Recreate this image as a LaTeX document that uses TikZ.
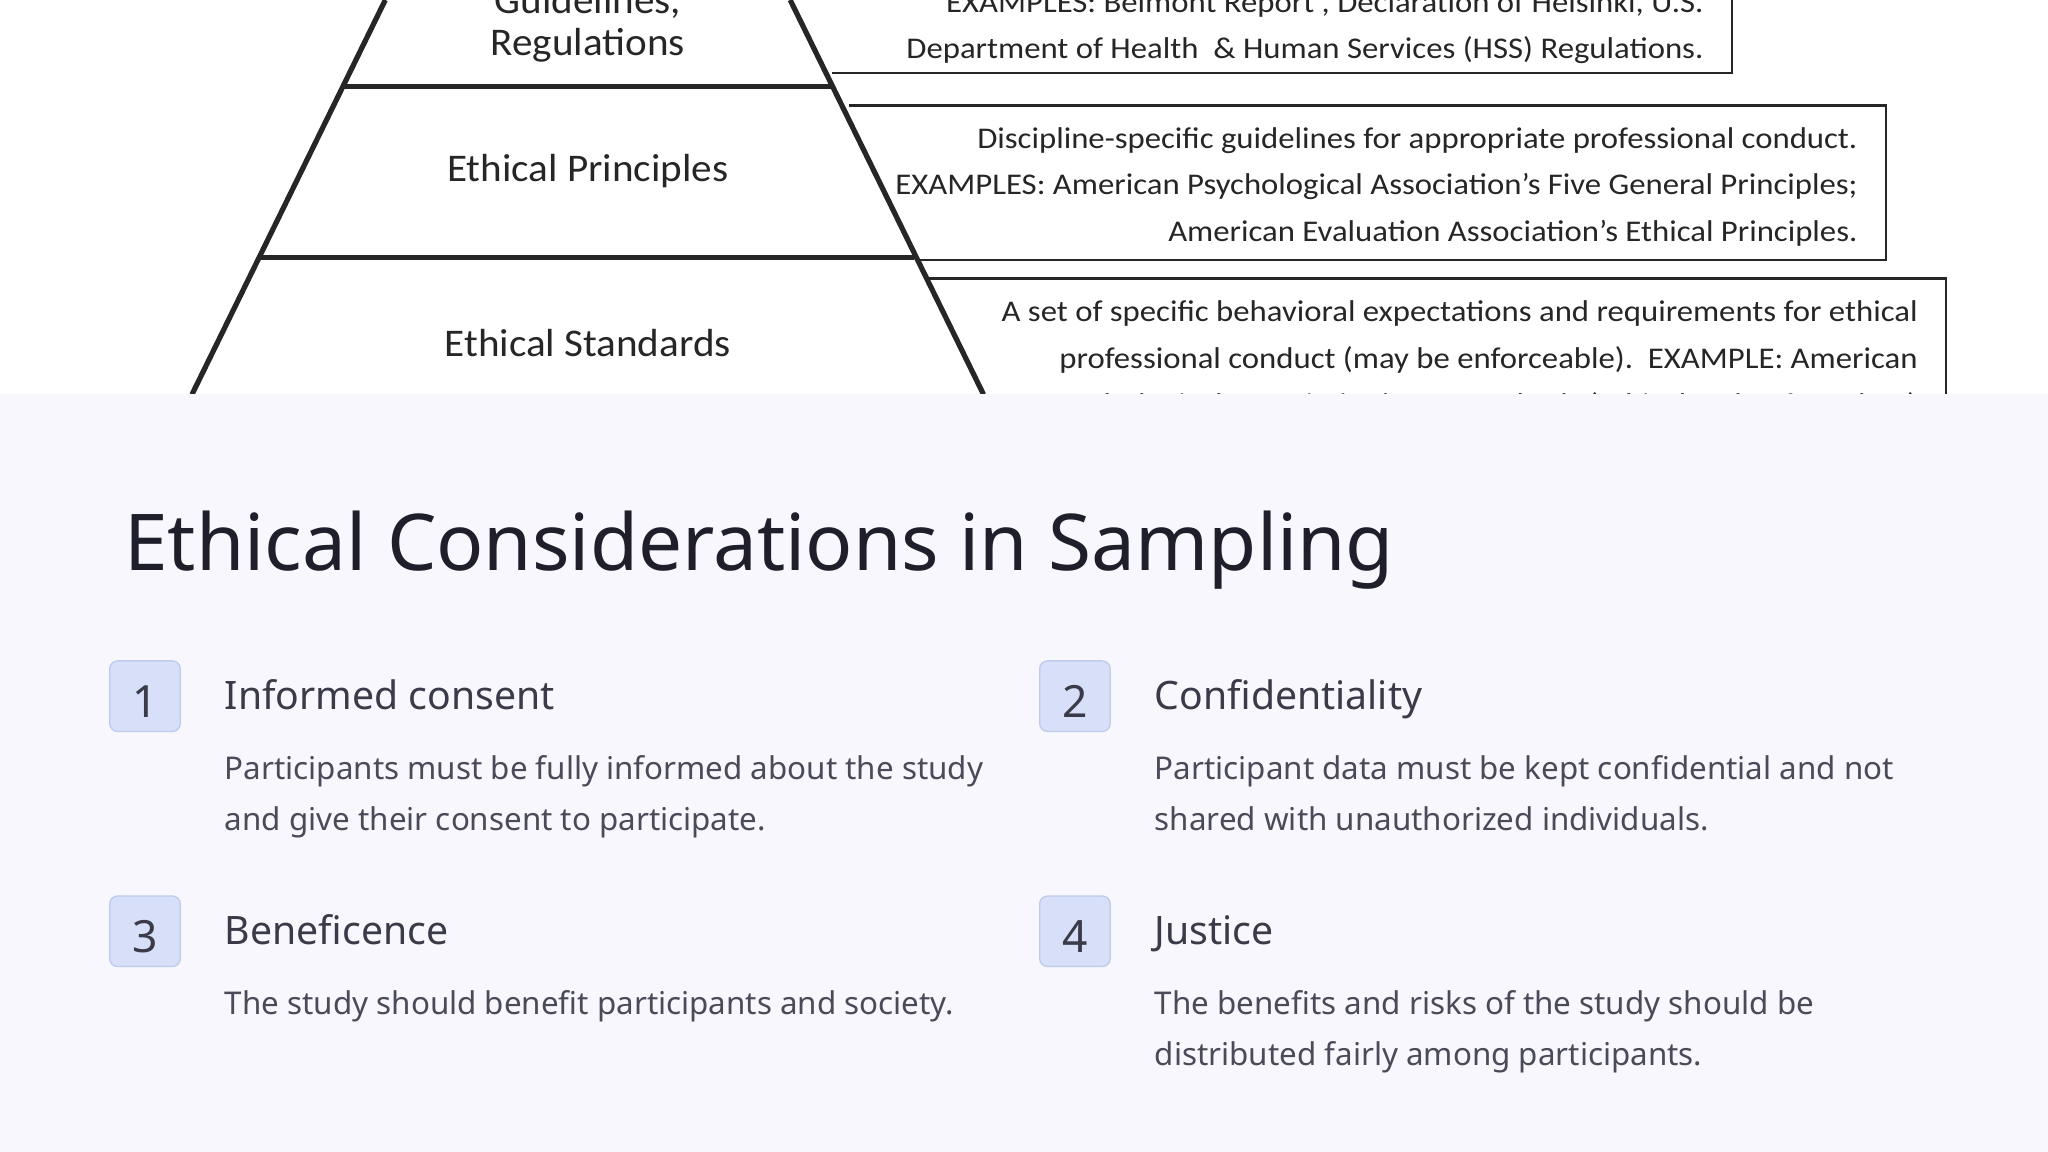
\documentclass[tikz,border=0pt]{standalone}
\usepackage{fontspec}
\setmainfont{Noto Sans}
\newfontfamily\calfont{Carlito}
\definecolor{panel}{HTML}{F7F7FD}
\definecolor{numfill}{HTML}{D7E0F8}
\definecolor{numdraw}{HTML}{BFCBEA}
\definecolor{titlec}{HTML}{1F1F2B}
\definecolor{headc}{HTML}{3A3A48}
\definecolor{bodyc}{HTML}{4A4A58}
\definecolor{ink}{HTML}{262626}
\tikzset{
  pyr/.style={draw=ink,line width=4pt},
  tbox/.style={draw=ink,line width=2pt},
  pyrlab/.style={font=\calfont\fontsize{30}{34}\selectfont,text=ink,align=center,xscale=1.05},
  boxtxt/.style={font=\calfont\fontsize{23}{35.5}\selectfont,text=ink,align=right,anchor=east,xscale=1.09},
  numbox/.style={draw=numdraw,fill=numfill,rounded corners=6pt,minimum width=54pt,minimum height=54pt,line width=1pt,text=headc,inner sep=0pt},
  numtxt/.style={font=\fontsize{34}{34}\selectfont,text=headc,anchor=base,inner sep=0pt},
  head/.style={font=\fontsize{30}{36}\selectfont,text=headc,anchor=base west,inner sep=0pt},
  body/.style={font=\fontsize{24}{39}\selectfont,text=bodyc,anchor=north west,align=left,inner sep=0pt}
}
\begin{document}
\begin{tikzpicture}[x=1pt,y=-1pt]
\useasboundingbox (0,0) rectangle (1568,882);
\fill[white] (0,0) rectangle (1568,302);
\begin{scope}
\clip (0,0) rectangle (1568,302);
\draw[pyr] (147,302) -- (295,0);
\draw[pyr] (753,302) -- (605,0);
\draw[pyr] (262,66) -- (637,66);
\draw[pyr] (200,197) -- (700,197);
\draw[tbox] (610,-20) -- (1326,-20) -- (1326,56) -- (637,56);
\draw[tbox] (650,81) -- (1444,81) -- (1444,199) -- (703,199);
\draw[tbox] (708,213) -- (1490,213) -- (1490,330);
\node[pyrlab] (g1) at (450,2) {Guidelines,};
\node[pyrlab] (g2) at (450,35) {Regulations};
\node[pyrlab] (p) at (450,131) {Ethical Principles};
\node[pyrlab] (s) at (450,263) {Ethical Standards};
\node[boxtxt] (b1) at (1308,21) {EXAMPLES: Belmont Report , Declaration of Helsinki, U.S.\\Department of Health\ \ \& Human Services (HSS) Regulations.};
\node[boxtxt] (b2) at (1426,143) {Discipline-specific guidelines for appropriate professional conduct.\\EXAMPLES: American Psychological Association’s Five General Principles;\\American Evaluation Association’s Ethical Principles.};
\node[boxtxt] (b3) at (1472,276) {A set of specific behavioral expectations and requirements for ethical\\professional conduct (may be enforceable).\ \ EXAMPLE: American\\Psychological Association’s 10 Standards (ethical code of conduct)};
\end{scope}
\fill[panel] (0,302) rectangle (1568,882);
\node[font=\fontsize{60}{70}\selectfont,text=titlec,anchor=base west,inner sep=0pt] (t) at (95,437) {Ethical Considerations in Sampling};
\node[numbox] (n1) at (111,533) {};
\node[numtxt] at (111,549) {1};
\node[head] (h1) at (172,543) {Informed consent};
\node[body] (d1) at (172,578) {Participants must be fully informed about the study\\and give their consent to participate.};
\node[numbox] (n2) at (823,533) {};
\node[numtxt] at (823,549) {2};
\node[head] (h2) at (884,543) {Confidentiality};
\node[body] (d2) at (884,578) {Participant data must be kept confidential and not\\shared with unauthorized individuals.};
\node[numbox] (n3) at (111,713) {};
\node[numtxt] at (111,729) {3};
\node[head] (h3) at (172,723) {Beneficence};
\node[body] (d3) at (172,758) {The study should benefit participants and society.};
\node[numbox] (n4) at (823,713) {};
\node[numtxt] at (823,729) {4};
\node[head] (h4) at (884,723) {Justice};
\node[body] (d4) at (884,758) {The benefits and risks of the study should be\\distributed fairly among participants.};
\end{tikzpicture}
\end{document}
